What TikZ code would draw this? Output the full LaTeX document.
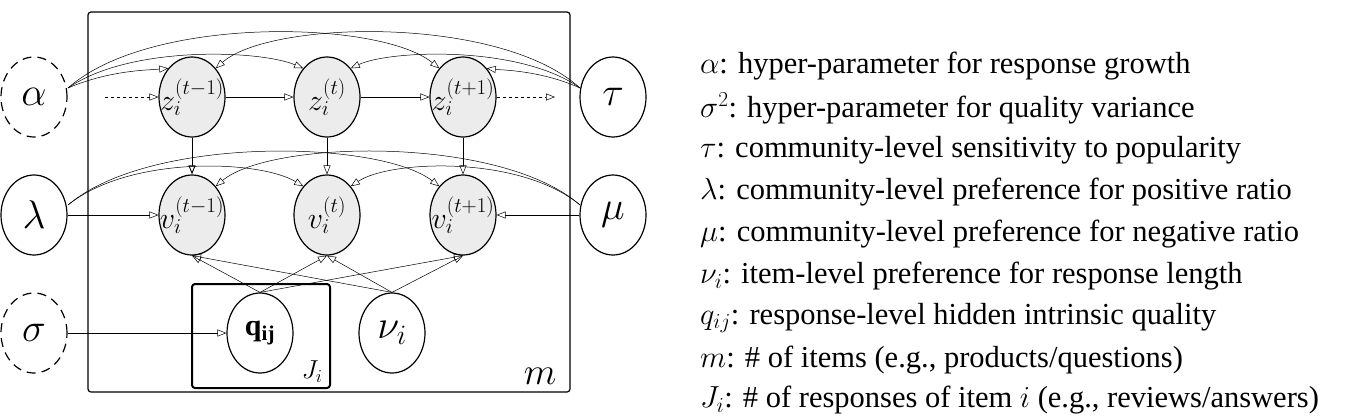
\RequirePackage{fix-cm}
\documentclass[tikz,border=0pt]{standalone}
\usepackage{fontspec}
\setmainfont{Liberation Serif}
\usetikzlibrary{shapes.geometric,arrows.meta}
\begin{document}
\begin{tikzpicture}[x=1pt,y=-1pt,
  rv/.style={ellipse,draw,line width=1.2pt,minimum width=66pt,minimum height=80pt,inner sep=0pt},
  obs/.style={rv,fill=gray!15},
  hyp/.style={rv,dash pattern=on 9pt off 6pt},
  lab/.style={font=\fontsize{40}{40}\selectfont,inner sep=0pt},
  slab/.style={font=\fontsize{30}{30}\selectfont,inner sep=0pt},
  ar/.style={-{Triangle[open,length=9pt,width=7pt]},line width=0.5pt},
  txt/.style={anchor=west,font=\fontsize{30.5}{34}\selectfont,inner sep=0pt}]
\useasboundingbox (0,0) rectangle (1360,416);
\draw[line width=1.2pt,rounded corners=3pt] (88,12) rectangle (570,392);
\node[anchor=south east,font=\fontsize{38}{38}\selectfont] at (560,388) {$m$};
\draw[line width=2pt,rounded corners=3pt] (192,284) rectangle (330,388);
\node[anchor=south east,font=\fontsize{26}{26}\selectfont] at (326,386) {$J_i$};
\node[hyp] (a) at (34,97) {}; \node[lab] at (a) {$\alpha$};
\node[rv] (tau) at (613,97) {}; \node[lab] at (tau) {$\tau$};
\node[rv] (l) at (34,215) {}; \node[lab] at (l) {$\lambda$};
\node[rv] (mu) at (613,215) {}; \node[lab] at (mu) {$\mu$};
\node[hyp] (s) at (34,333) {}; \node[lab] at (s) {$\sigma$};
\node[obs] (z1) at (192,97) {}; \node[slab] at (z1) {$z_i^{(t-1)}$};
\node[obs] (z2) at (327,97) {}; \node[slab] at (z2) {$z_i^{(t)}$};
\node[obs] (z3) at (463,97) {}; \node[slab] at (z3) {$z_i^{(t+1)}$};
\node[obs] (v1) at (192,215) {}; \node[slab] at (v1) {$v_i^{(t-1)}$};
\node[obs] (v2) at (327,215) {}; \node[slab] at (v2) {$v_i^{(t)}$};
\node[obs] (v3) at (463,215) {}; \node[slab] at (v3) {$v_i^{(t+1)}$};
\node[rv] (q) at (260,333) {}; \node[slab] at (q) {$\mathbf{q_{ij}}$};
\node[rv] (nu) at (392,333) {}; \node[lab] at (nu) {$\nu_i$};
\coordinate (zin) at (105,97);
\coordinate (zout) at (555,97);
\coordinate (ao) at (68,88);
\coordinate (to) at (580,88);
\coordinate (lo) at (68,205);
\coordinate (mo) at (580,205);
\draw[ar,dashed] (zin) -- (z1);
\draw[ar,dashed] (z3) -- (zout);
\draw[ar] (z1) -- (z2);
\draw[ar] (z2) -- (z3);
\draw[ar,line width=0.9pt] (z1) -- (v1);
\draw[ar] (z2) -- (v2);
\draw[ar] (z3) -- (v3);
\draw[ar] (l) -- (v1);
\draw[ar] (mu) -- (v3);
\draw[ar] (s) -- (q);
\draw[ar] (ao) .. controls (110,70) and (150,70) .. (z1.north west);
\draw[ar] (ao) .. controls (130,45) and (260,50) .. (z2.north west);
\draw[ar] (ao) .. controls (150,15) and (380,20) .. (z3.north west);
\draw[ar] (to) .. controls (540,70) and (500,70) .. (z3.north east);
\draw[ar] (to) .. controls (520,45) and (390,50) .. (z2.north east);
\draw[ar] (to) .. controls (500,15) and (270,20) .. (z1.north east);
\draw[ar] (lo) .. controls (130,155) and (260,160) .. (v2.north west);
\draw[ar] (lo) .. controls (150,135) and (380,140) .. (v3.north west);
\draw[ar] (mo) .. controls (520,155) and (390,160) .. (v2.north east);
\draw[ar] (mo) .. controls (500,135) and (270,140) .. (v1.north east);
\draw[ar] (q.north) -- (v1.south);
\draw[ar] (q.north) -- (v2.south);
\draw[ar] (q.north) -- (v3.south);
\draw[ar] (nu.north) -- (v1.south);
\draw[ar] (nu.north) -- (v2.south);
\draw[ar] (nu.north) -- (v3.south);
\node[txt] (t1) at (700,66) {$\alpha$: hyper-parameter for response growth};
\node[txt] (t2) at (700,108) {$\sigma^2$: hyper-parameter for quality variance};
\node[txt] (t3) at (700,150) {$\tau$: community-level sensitivity to popularity};
\node[txt] (t4) at (700,192) {$\lambda$: community-level preference for positive ratio};
\node[txt] (t5) at (700,234) {$\mu$: community-level preference for negative ratio};
\node[txt] (t6) at (700,276) {$\nu_i$: item-level preference for response length};
\node[txt] (t7) at (700,318) {$q_{ij}$: response-level hidden intrinsic quality};
\node[txt] (t8) at (700,360) {$m$: \# of items (e.g., products/questions)};
\node[txt] (t9) at (700,400) {$J_i$: \# of responses of item $i$ (e.g., reviews/answers)};
\end{tikzpicture}
\end{document}
